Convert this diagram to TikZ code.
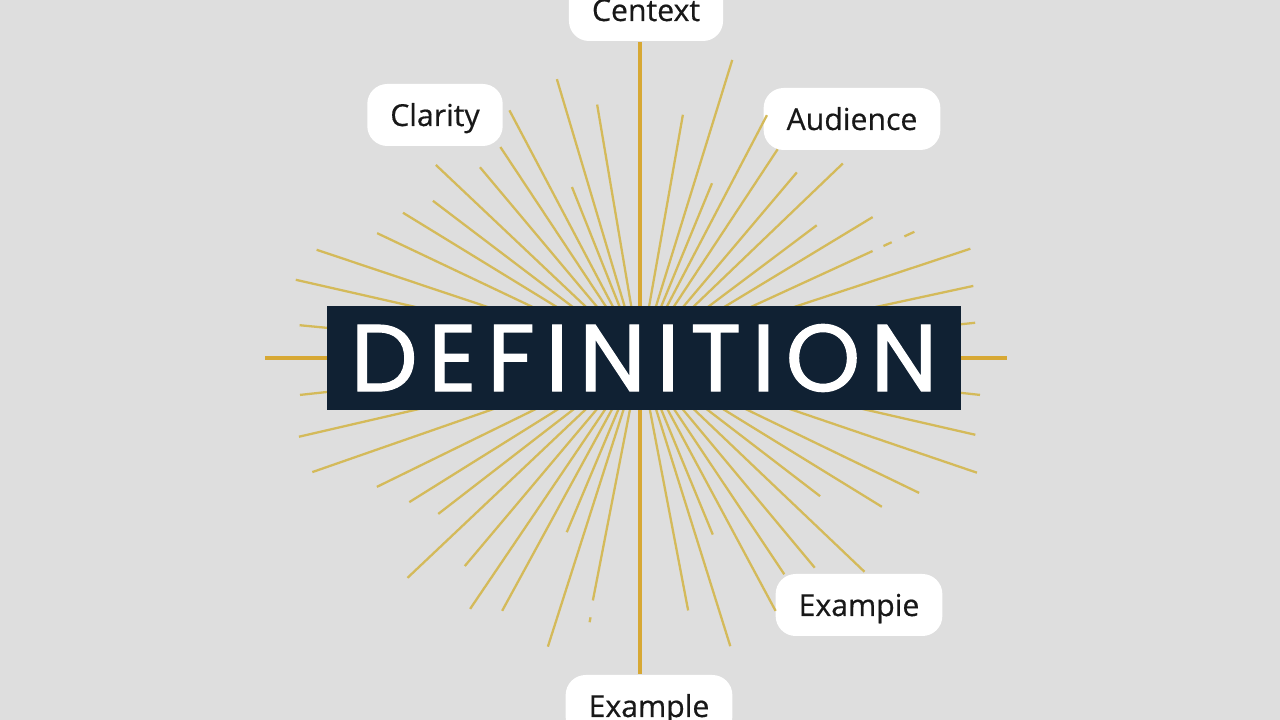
\documentclass[tikz,border=0pt]{standalone}
\usepackage{fontspec}
\setmainfont[FakeBold=0.5]{Open Sans}
\newfontfamily\titlefont[LetterSpace=11, FakeBold=1.2]{Poppins}
\definecolor{bggray}{RGB}{222,222,222}
\definecolor{navy}{RGB}{16,33,51}
\definecolor{raygold}{RGB}{212,186,90}
\definecolor{stemgold}{RGB}{215,168,52}
\definecolor{inkdark}{RGB}{24,24,24}

\begin{document}
\begin{tikzpicture}[
    ray/.style={draw=raygold, line width=0.65pt},
    stem/.style={draw=stemgold, line width=1.1pt},
    headbox/.style={rectangle, fill=navy, text=white, minimum width=6.34cm, minimum height=1.04cm, inner sep=0pt, font=\titlefont\fontsize{27}{30}\selectfont},
    tag/.style={rectangle, rounded corners=2mm, fill=white, text=inkdark, minimum height=6.2mm, inner xsep=2.3mm, text height=2.2mm, text depth=0pt, font=\fontsize{8.6}{10}\selectfont}
]

% Canvas
\useasboundingbox (-6.40,-3.62) rectangle (6.40,3.58);
\clip (-6.40,-3.62) rectangle (6.40,3.58);
\fill[bggray] (-6.40,-3.62) rectangle (6.40,3.58);

\coordinate (hub) at (0,0);

% Labels
\node[tag] (context) at (0.06,3.48) {Centext};
\node[tag] (clarity) at (-2.05,2.43) {Clarity};
\node[tag] (audience) at (2.12,2.39) {Audience};
\node[tag] (exampie) at (2.19,-2.47) {Exampie};
\node[tag] (example) at (0.09,-3.48) {Example};

% Rays (angle/length)
\foreach \a/\r in {72.8/3.12, 80.0/2.47, 62.4/2.74, 67.6/1.89, 56.6/2.50, 49.8/2.43, 43.8/2.81,
    36.9/2.21, 31.2/2.72, 24.7/2.56, 18.3/3.48, 12.2/3.41, 6/3.37, -6.2/3.42,
    106.6/2.91, 99.6/2.57, 117.8/2.80, 123.5/2.53, 136.6/2.81, 130.0/2.49, 111.7/1.84,
    142.8/2.60, 148.5/2.78, 154.6/2.91, 161.5/3.41, 167.2/3.53, 174.5/3.42, 186.2/3.42,
    193.0/3.50, 199.2/3.47, 206.1/2.93, 212.0/2.72, 217.7/2.55, 223.4/3.20, 229.9/2.72,
    235.9/3.03, 241.4/2.88, 247.2/1.89, 252.3/3.03, 259.0/2.47,
    280.8/2.57, 287.4/3.02, 292.4/1.91, 298.2/2.87, 303.7/2.60, 309.8/2.73, 316.4/3.10,
    322.5/2.27, 328.4/2.84, 334.2/3.10, 341.2/3.56, 347.1/3.44}
    \draw[ray] (\a:0.3) -- (\a:\r);

% Broken bits
\draw[ray] (24.7:2.68) -- (24.7:2.77);
\draw[ray] (24.7:2.91) -- (24.7:3.02);
\draw[ray] (259.2:2.64) -- (259.2:2.69);

% Main axes
\draw[stem] (0:0.3) -- (0:3.67);
\draw[stem] (180:0.3) -- (180:3.75);
\draw[stem] (hub) -- (hub |- context.south);
\draw[stem] (hub) -- (hub |- example.north);

% Central box
\node[headbox] (def) at (0.04,0) {DEFINITION};

\end{tikzpicture}
\end{document}
